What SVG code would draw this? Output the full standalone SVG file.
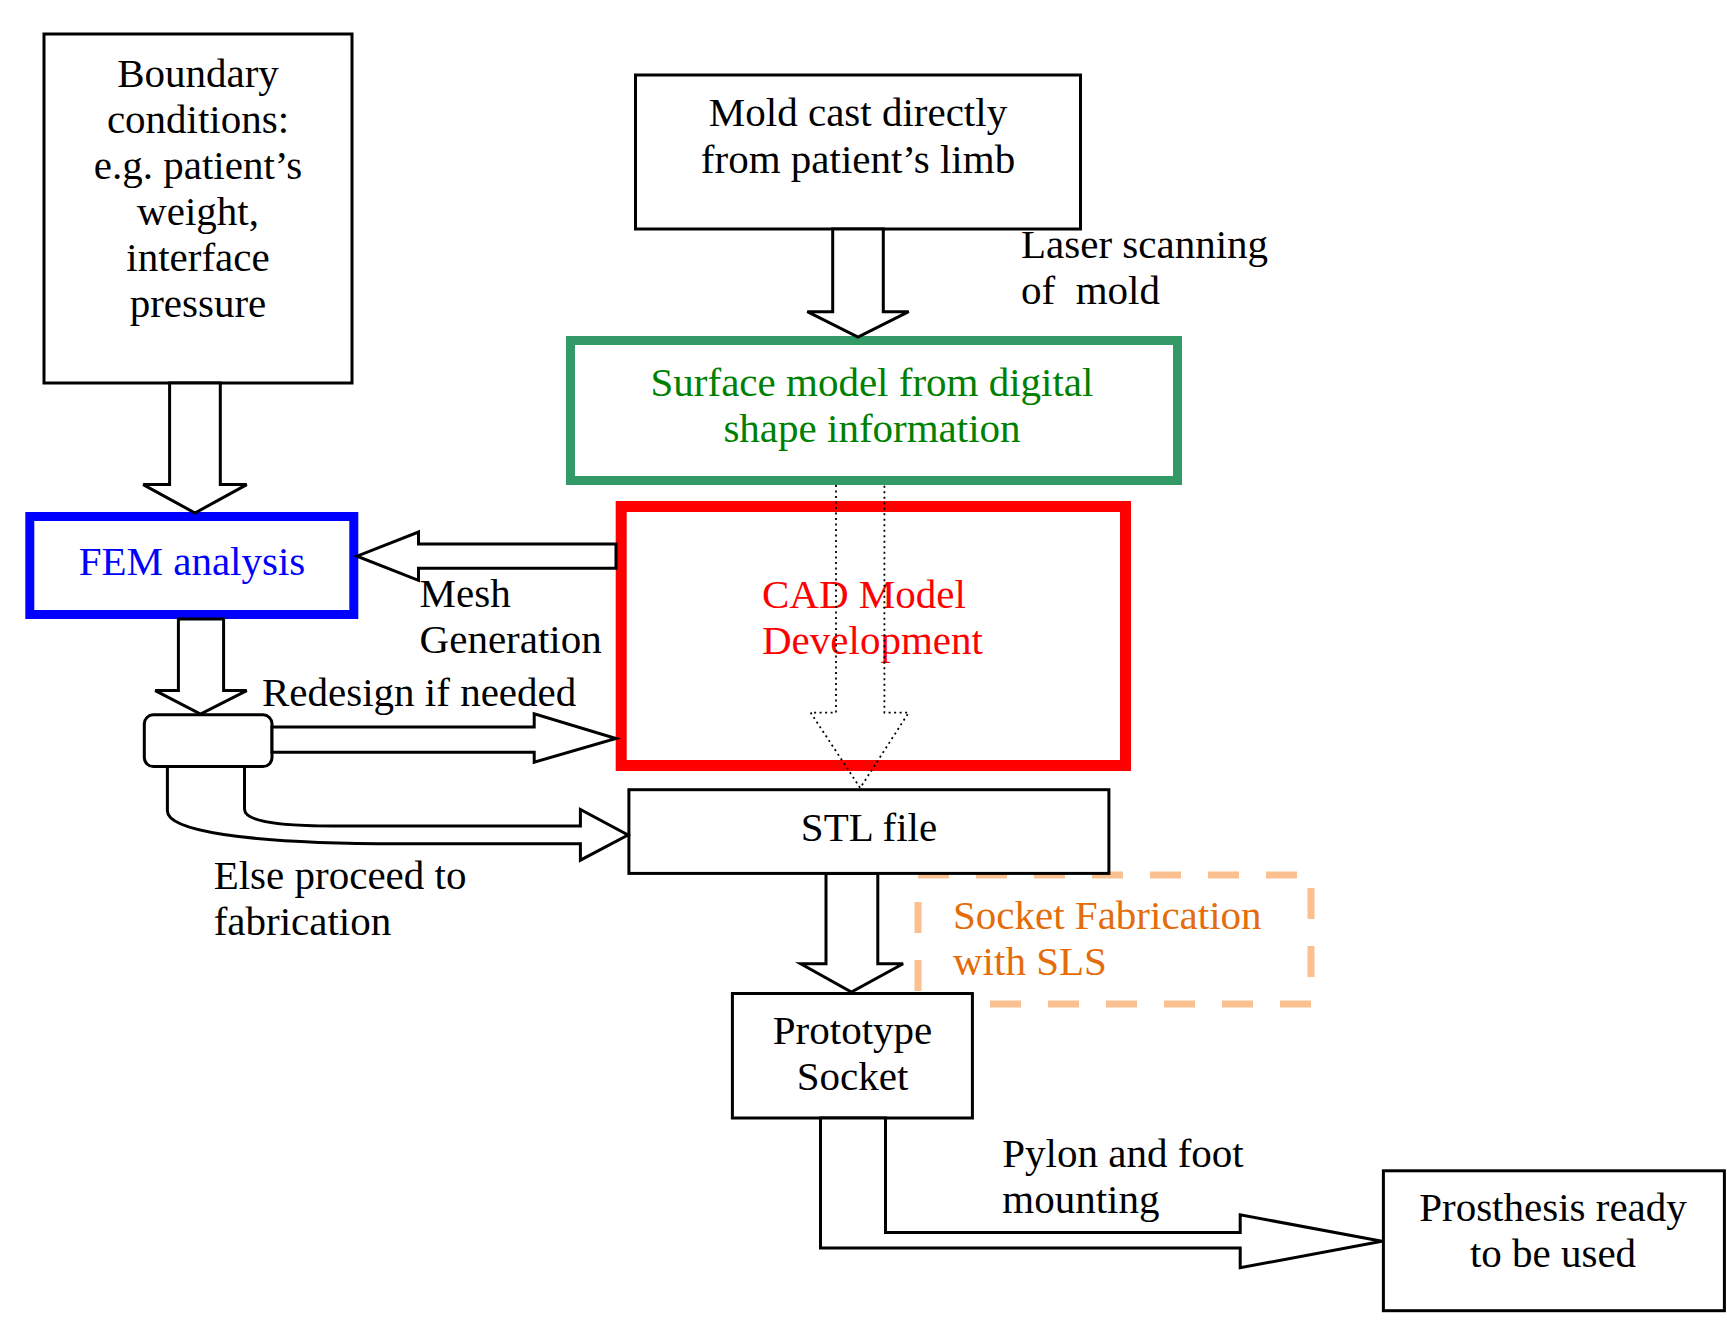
<svg xmlns="http://www.w3.org/2000/svg" width="1727" height="1331" viewBox="0 0 1727 1331">
<style>
text{font-family:"Liberation Serif","Times New Roman",serif;font-size:41px;fill:#000}
.c{text-anchor:middle}
.box{fill:#fff;stroke:#000;stroke-width:3}
.arr{fill:#fff;stroke:#000;stroke-width:3;stroke-linejoin:miter}
.dot{fill:none;stroke:#000;stroke-width:1.8;stroke-dasharray:2 3.5}
</style>
<rect width="1727" height="1331" fill="#fff"/>
<g id="boundary">
<rect class="box" x="44" y="34" width="308" height="349"/>
<text class="c" x="198" y="87">Boundary</text>
<text class="c" x="198" y="133">conditions:</text>
<text class="c" x="198" y="179">e.g. patient’s</text>
<text class="c" x="198" y="225">weight,</text>
<text class="c" x="198" y="271">interface</text>
<text class="c" x="198" y="317">pressure</text>
</g>
<g id="mold">
<rect class="box" x="635.5" y="75" width="445" height="154"/>
<text class="c" x="858" y="126">Mold cast directly</text>
<text class="c" x="858" y="173">from patient’s limb</text>
</g>
<g id="laser-label">
<text x="1021" y="258">Laser scanning</text>
<text x="1021" y="304" xml:space="preserve">of  mold</text>
</g>
<g id="surface">
<rect x="570.5" y="340.5" width="607" height="140" fill="#fff" stroke="#339966" stroke-width="9"/>
<text class="c" x="872" y="396" style="fill:#008000">Surface model from digital</text>
<text class="c" x="872" y="442" style="fill:#008000">shape information</text>
</g>
<g id="fem">
<rect x="29.8" y="516.5" width="324" height="98" fill="#fff" stroke="#0000ff" stroke-width="9"/>
<text class="c" x="192" y="575" style="fill:#0000ff">FEM analysis</text>
</g>
<g id="cad">
<rect x="621.2" y="506.5" width="504.3" height="259" fill="#fff" stroke="#ff0000" stroke-width="11"/>
<text x="762" y="608" style="fill:#ff0000">CAD Model</text>
<text x="762" y="654" style="fill:#ff0000">Development</text>
</g>
<g id="decision">
<rect class="box" x="144.3" y="714.8" width="127.7" height="51.8" rx="9"/>
</g>
<g id="socket-fabrication">
<rect x="918" y="875" width="393" height="129" fill="none" stroke="#fac090" stroke-width="7" stroke-dasharray="31 27"/>
<text x="953" y="929" style="fill:#e46c0a">Socket Fabrication</text>
<text x="953" y="975" style="fill:#e46c0a">with SLS</text>
</g>
<g id="stl">
<rect class="box" x="628.9" y="789.7" width="480" height="83.7"/>
<text class="c" x="869" y="841">STL file</text>
</g>
<g id="prototype">
<rect class="box" x="732.4" y="993.5" width="240" height="124.5"/>
<text class="c" x="852.5" y="1044">Prototype</text>
<text class="c" x="852.5" y="1090">Socket</text>
</g>
<g id="prosthesis">
<rect class="box" x="1383.4" y="1170.8" width="341" height="139.9"/>
<text class="c" x="1553" y="1221">Prosthesis ready</text>
<text class="c" x="1553" y="1267">to be used</text>
</g>
<g id="connectors">
<polygon class="arr" points="832.7,229 832.7,311.7 807.3,311.7 858,337 908.7,311.7 883.3,311.7 883.3,229"/>
<polygon class="arr" points="169.6,383 169.6,484.6 143.2,484.6 195,513 246.7,484.6 220.3,484.6 220.3,383"/>
<polygon class="arr" points="178.4,619 178.4,690.6 155.3,690.6 200.5,714 246.7,690.6 223.6,690.6 223.6,619"/>
<polygon class="arr" points="826,873.4 826,963.7 800.7,963.7 851.4,992 903.1,963.7 877.8,963.7 877.8,873.4"/>
<polyline class="dot" points="836,485 836,712.6 810.6,712.6 860.2,788 908.7,712.6 884.4,712.6 884.4,485"/>
<polygon class="arr" points="616,544 418.5,544 418.5,532 357,556.2 418.5,580.4 418.5,568.3 616,568.3"/>
<polygon class="arr" points="272,727 534.2,727 534.2,713.7 616,738.5 534.2,762.2 534.2,752.3 272,752.3"/>
<path class="arr" d="M167.4,766.6 V811 C167.4,830 240,843.7 400,843.7 H580.4 V860.2 L628,835 L580.4,809.5 V826 H334 C270,826 244.5,820 244.5,809 V766.6 Z"/>
<path class="arr" d="M820.5,1118 V1248 H1240.2 V1267.7 L1382,1241.3 L1240.2,1214.8 V1232.5 H885.5 V1118 Z"/>
<text x="419.6" y="607">Mesh</text>
<text x="419.6" y="653">Generation</text>
<text x="262" y="706">Redesign if needed</text>
<text x="213.7" y="889">Else proceed to</text>
<text x="213.7" y="935">fabrication</text>
<text x="1002.3" y="1167">Pylon and foot</text>
<text x="1002.3" y="1213">mounting</text>
</g>
</svg>
